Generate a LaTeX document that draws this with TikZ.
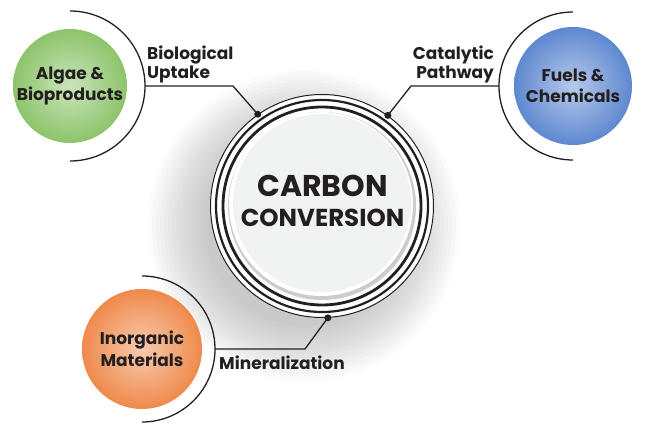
\documentclass[tikz,border=0pt]{standalone}
\usepackage{fontspec}
\setmainfont{Poppins}
\usetikzlibrary{positioning,calc}

\definecolor{algaegreen}{HTML}{8CC46A}
\definecolor{fuelblue}{HTML}{5E88D0}
\definecolor{inorgorange}{HTML}{EF8A4C}
\definecolor{inktext}{HTML}{231F20}
\definecolor{diskgrey}{HTML}{F1F2F2}

\begin{document}
\begin{tikzpicture}[x=1pt, y=1pt,
    source/.style={circle, minimum size=#1, inner sep=0pt, align=center, text=inktext, font=\fontsize{17}{21.5}\selectfont\bfseries},
    bracket/.style={line width=1.3pt, inktext},
    link/.style={line width=1.3pt, inktext},
    lbl/.style={inner sep=0pt, text=inktext, font=\fontsize{17}{18.5}\selectfont\bfseries},
    ring/.style={inktext, line width=#1}]

    \useasboundingbox (0,0) rectangle (645,436);

    % Shadow of the centre button
    \coordinate (cc) at (322,230);
    \foreach \r in {100,104,...,156}
        \fill[black, fill opacity=0.017] ($(cc)+(-18,-20)$) circle (\r);

    % Centre button
    \node (carbon) [circle, minimum size=223pt, inner sep=0pt, draw=inktext, line width=1pt, fill=white] at (cc) {};
    \fill[black!20] (carbon.center) circle (94);
    \fill[white] ($(carbon.center)+(-1,2)$) circle (92);
    \fill[diskgrey] ($(carbon.center)+(0,3)$) circle (89);
    \draw[ring=2.2pt] (carbon.center) circle (106);
    \draw[ring=2.8pt] (carbon.center) circle (99);
    \node (cc-top) [anchor=base, text=inktext, font=\fontsize{30}{32}\selectfont\bfseries] at ($(carbon.center)+(0.5,9)$) {CARBON};
    \node (cc-bot) [anchor=base, text=inktext, font=\fontsize{24.5}{26}\selectfont\bfseries] at ($(carbon.center)+(0.5,-21)$) {CONVERSION};

    % Algae & Bioproducts
    \node (algae) [source=114pt, shading=radial, inner color=algaegreen!45!white, outer color=algaegreen] at (70,350) {Algae \&\\Bioproducts};
    \draw[bracket] ($(algae.center)+(0,75)$) arc[start angle=90, end angle=-90, radius=75];
    \coordinate (bio-a) at ($(algae.center)+(75,0)$);
    \coordinate (bio-b) at ($(bio-a)+(88,0)$);
    \draw[link] (bio-a) -- (bio-b) -- (carbon.125.5);
    \fill[inktext] (carbon.125.5) circle (3.5);
    \node (biolbl) [lbl, align=left, above right=3pt and 2pt of bio-a] {Biological\\Uptake};

    % Fuels & Chemicals
    \node (fuels) [source=118pt, shading=radial, inner color=fuelblue!45!white, outer color=fuelblue] at (573,350) {Fuels \&\\Chemicals};
    \draw[bracket] ($(fuels.center)+(0,74)$) arc[start angle=90, end angle=270, radius=74];
    \coordinate (cat-a) at ($(fuels.center)+(-74,0)$);
    \coordinate (cat-b) at ($(cat-a)+(-88,0)$);
    \draw[link] (cat-a) -- (cat-b) -- (carbon.54.5);
    \fill[inktext] (carbon.54.5) circle (3.5);
    \node (catlbl) [lbl, align=right, above left=3pt and 5pt of cat-a] {Catalytic\\Pathway};

    % Inorganic Materials
    \node (inorg) [source=120pt, shading=radial, inner color=inorgorange!45!white, outer color=inorgorange] at (142,87) {Inorganic\\Materials};
    \draw[bracket] ($(inorg.center)+(0,73)$) arc[start angle=90, end angle=-90, radius=73];
    \coordinate (minrl-a) at ($(inorg.center)+(73,0)$);
    \coordinate (minrl-b) at ($(minrl-a)+(90,0)$);
    \draw[link] (minrl-a) -- (minrl-b) -- (carbon.-87.5);
    \fill[inktext] (carbon.-87.5) circle (3.5);
    \node (minlbl) [lbl, below right=7pt and 4pt of minrl-a] {Mineralization};

\end{tikzpicture}
\end{document}
